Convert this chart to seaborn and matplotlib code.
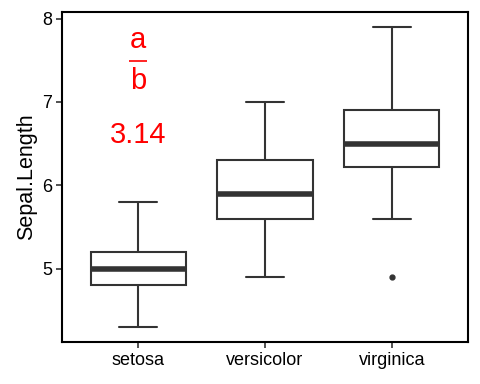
import matplotlib
matplotlib.use("Agg")
import matplotlib.pyplot as plt
import seaborn as sns
import pandas as pd
import numpy as np

# values (five-number summaries, plus one outlier for virginica)
species = ["setosa", "versicolor", "virginica"]
setosa_vals = [4.3, 4.8, 5.0, 5.2, 5.8]
versicolor_vals = [4.9, 5.6, 5.9, 6.3, 7.0]
virginica_vals = [4.9, 5.6, 6.225, 6.3, 6.5, 6.7, 6.9, 7.2, 7.9]
yticks = [5, 6, 7, 8]
label_value = "3.14"
label_y = 6.6
frac_num = "a"
frac_den = "b"
frac_y = 7.49

rows = []
for sp, vals in zip(species, [setosa_vals, versicolor_vals, virginica_vals]):
    for v in vals:
        rows.append({"Species": sp, "Sepal.Length": v})
df = pd.DataFrame(rows)

sns.set_theme(style="white")
plt.rcParams['font.family'] = ['Liberation Sans', 'DejaVu Sans']

fig = plt.figure(figsize=(4.8, 3.84), dpi=100)
ax = fig.add_axes([62/480, 1-342/384, (468-62)/480, (342-12)/384])

lc = "#333333"
sns.boxplot(data=df, x="Species", y="Sepal.Length", order=species, ax=ax,
            width=0.75, color="white", linecolor=lc, linewidth=1.5,
            medianprops=dict(color=lc, linewidth=4),
            flierprops=dict(marker="o", markersize=3.5, markerfacecolor=lc,
                            markeredgecolor=lc),
            whiskerprops=dict(color=lc, linewidth=1.5),
            capprops=dict(color=lc, linewidth=1.5))

# narrower whisker caps (style only)
for line in ax.lines:
    xd = np.asarray(line.get_xdata(), dtype=float)
    yd = np.asarray(line.get_ydata(), dtype=float)
    if len(xd) == 2 and yd[0] == yd[1] and 0.01 < abs(xd[1] - xd[0]) < 0.5:
        m = (xd[0] + xd[1]) / 2
        line.set_xdata([m - 0.15, m + 0.15])

ax.set_xlim(-0.6, 2.6)
ax.set_ylim(4.12, 8.08)
ax.set_yticks(yticks)
ax.set_xlabel("")
ax.set_ylabel("Sepal.Length", fontsize=15.5, color="black", labelpad=4)
ax.tick_params(axis="both", direction="out", length=4, width=1.2, color=lc,
               labelsize=13, labelcolor="black", bottom=True, left=True, pad=3)
for s in ax.spines.values():
    s.set_visible(True)
    s.set_color("black")
    s.set_linewidth(1.5)

ax.text(0, label_y, label_value, color="red", fontsize=21, ha="center", va="center")
# fraction a/b (annotation)
ax.annotate(frac_num, xy=(0, frac_y), xytext=(0, 5.5), textcoords="offset points",
            color="red", fontsize=21, ha="center", va="bottom")
ax.annotate(frac_den, xy=(0, frac_y), xytext=(0, -4), textcoords="offset points",
            color="red", fontsize=21, ha="center", va="top")
ax.hlines(frac_y, -0.072, 0.072, color="red", linewidth=1.2)

fig.savefig("out.png", dpi=100)
